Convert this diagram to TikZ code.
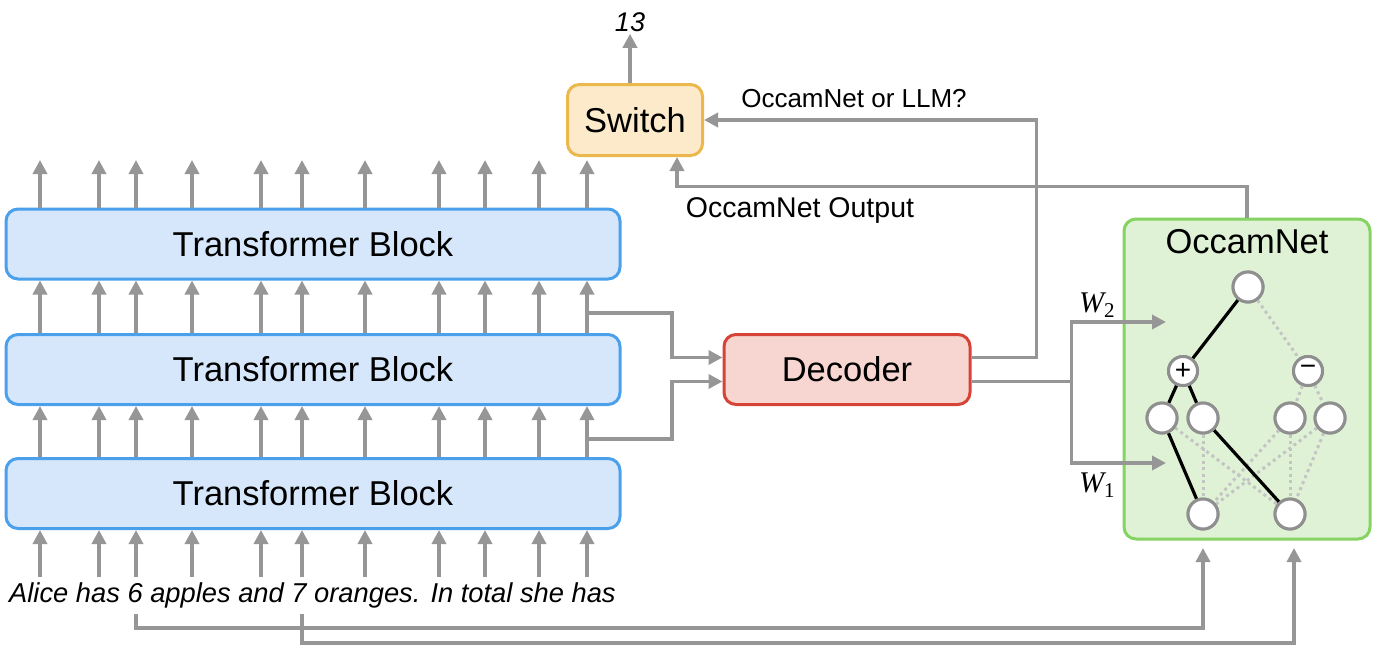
\documentclass[tikz,border=0pt]{standalone}
\usepackage{fontspec}
\setmainfont{Liberation Sans}
\newfontfamily\tms{Liberation Serif}
\usetikzlibrary{arrows.meta}
\definecolor{agray}{HTML}{969696}
\definecolor{tbBorder}{HTML}{4AA0EA}
\definecolor{tbFill}{HTML}{D6E7FB}
\definecolor{swBorder}{HTML}{EAB84C}
\definecolor{swFill}{HTML}{FCEACB}
\definecolor{decBorder}{HTML}{D54437}
\definecolor{decFill}{HTML}{F7D5D1}
\definecolor{occBorder}{HTML}{85D363}
\definecolor{occFill}{HTML}{DFF2D5}
\definecolor{cBorder}{HTML}{8F8F8F}
\definecolor{dotgray}{HTML}{C4C4C4}
\tikzset{
  gl/.style={draw=agray, line width=3.8pt},
  ga/.style={gl, -{Triangle[length=14pt,width=14pt]}},
  boxbase/.style={line width=3pt, rounded corners=12pt, inner sep=0pt, font=\fontsize{34.5}{41}\selectfont},
  tblock/.style={boxbase, draw=tbBorder, fill=tbFill, minimum width=614pt, minimum height=70pt},
  swbox/.style={boxbase, draw=swBorder, fill=swFill, minimum width=135pt, minimum height=71pt},
  decbox/.style={boxbase, draw=decBorder, fill=decFill, minimum width=246pt, minimum height=70pt},
  occbox/.style={boxbase, draw=occBorder, fill=occFill, minimum width=246pt, minimum height=320pt},
  lbl/.style={inner sep=0pt, font=\fontsize{26}{31}\selectfont},
  cnode/.style={circle, draw=cBorder, fill=white, line width=3pt, minimum size=30pt, inner sep=0pt, font=\fontsize{28}{32}\selectfont},
  onode/.style={cnode, minimum size=29pt},
  blk/.style={line width=3.2pt, draw=black},
  dtl/.style={line width=3pt, draw=dotgray, dash pattern=on 3pt off 3.5pt},
  wlbl/.style={inner sep=0pt, font=\fontsize{30}{34}\selectfont\tms\itshape}
}
\begin{document}
\begin{tikzpicture}[x=1pt,y=-1pt]
\useasboundingbox (0,0) rectangle (1380,651);

% boxes
\node[tblock] (tb3) at (313,244) {Transformer Block};
\node[tblock] (tb2) at (313,369.5) {Transformer Block};
\node[tblock] (tb1) at (313,493.5) {Transformer Block};
\node[swbox] (sw) at (635,120) {Switch};
\node[decbox] (dec) at (847,369.5) {Decoder};
\node[occbox] (occ) at (1247,379) {};
\node[font=\fontsize{34.5}{41}\selectfont, inner sep=0pt] (occt) at (1247,242) {OccamNet};

% sentence
\node[anchor=base west, inner sep=0pt, font=\fontsize{27.3}{32}\selectfont\itshape] (sent) at (9,602) {Alice has 6 apples and 7 oranges. In total she has};

% token columns
\coordinate (inrow) at (0,577);
\coordinate (outrow) at (0,160);
\foreach \x [count=\i] in {40,99,136,192,261,302,365,439,485,539,587} {
  \coordinate (c\i) at (\x,0);
  \draw[ga] (c\i |- inrow) -- (c\i |- tb1.south);
  \draw[ga] (c\i |- tb1.north) -- (c\i |- tb2.south);
  \draw[ga] (c\i |- tb2.north) -- (c\i |- tb3.south);
  \draw[ga] (c\i |- tb3.north) -- (c\i |- outrow);
}

% branches to decoder
\coordinate (br1) at (587,313);
\coordinate (br2) at (587,439);
\draw[ga] (br1) -- ++(85,0) |- ([yshift=12pt]dec.west);
\draw[ga] (br2) -- ++(85,0) |- ([yshift=-12pt]dec.west);

% decoder to switch
\draw[ga] ([yshift=12pt]dec.east) -- ++(65,0) |- (sw.east);
\node[lbl] (lq) at (854,99) {OccamNet or LLM?};

% decoder to OccamNet
\draw[gl] ([yshift=-12pt]dec.east) -- ++(100,0) coordinate (split);
\coordinate (w2t) at (1166,322);
\coordinate (w1t) at (1166,463);
\draw[ga] (split) |- (w2t);
\draw[ga] (split) |- (w1t);
\node[wlbl] (lw2) at (1097,305) {W\textsubscript{\upshape 2}};
\node[wlbl] (lw1) at (1097,485) {W\textsubscript{\upshape 1}};

% OccamNet output to switch
\draw[ga] (occ.north) -- ++(0,-31) -| ([xshift=42pt]sw.south);
\node[lbl, font=\fontsize{28.5}{33}\selectfont] (lo) at (800,211) {OccamNet Output};

% switch result
\node[inner sep=2pt, font=\fontsize{27}{32}\selectfont\itshape] (res) at (630,22) {13};
\draw[ga] ([xshift=-5pt]sw.north) -- ([xshift=-5pt]sw.north |- res.south);

% OccamNet graph
\node[cnode] (n0) at (1248,287) {};
\node[onode] (np) at (1183,371) {};
\node[onode] (nm) at (1308,371) {};
\node[cnode] (na) at (1162,418) {};
\node[cnode] (nb) at (1203,418) {};
\node[cnode] (nc) at (1290,418) {};
\node[cnode] (nd) at (1330,418) {};
\node[cnode] (ne) at (1203,514) {};
\node[cnode] (nf) at (1290,514) {};

% dotted connections
\draw[dtl] (n0) -- (nm);
\draw[dtl] (nm) -- (nc);
\draw[dtl] (nm) -- (nd);
\draw[dtl] (na) -- (nf);
\draw[dtl] (nb) -- (ne);
\draw[dtl] (nc) -- (ne);
\draw[dtl] (nc) -- (nf);
\draw[dtl] (nd) -- (ne);
\draw[dtl] (nd) -- (nf);
% solid connections
\draw[blk] (n0) -- (np);
\draw[blk] (np) -- (na);
\draw[blk] (np) -- (nb);
\draw[blk] (na) -- (ne);
\draw[blk] (nb) -- (nf);
% circles drawn again above the connections
\foreach \n in {n0,na,nb,nc,nd,ne,nf} {
  \draw[draw=cBorder, fill=white, line width=3pt] (\n.center) circle (15pt);
}
\foreach \n in {np,nm} {
  \draw[draw=cBorder, fill=white, line width=3pt] (\n.center) circle (14.5pt);
}
\node[inner sep=0pt, font=\fontsize{28}{32}\selectfont] at (np.center) {+};
\node[inner sep=0pt, font=\fontsize{28}{32}\selectfont] at ([yshift=1pt]nm.center) {−};

% inputs from the numbers
\coordinate (six) at (136,614);
\coordinate (seven) at (302,614);
\coordinate (in6) at (1203,548);
\coordinate (in7) at (1294,548);
\draw[ga] (six) -- ++(0,14) -| (in6);
\draw[ga] (seven) -- ++(0,29) -| (in7);
\end{tikzpicture}
\end{document}
